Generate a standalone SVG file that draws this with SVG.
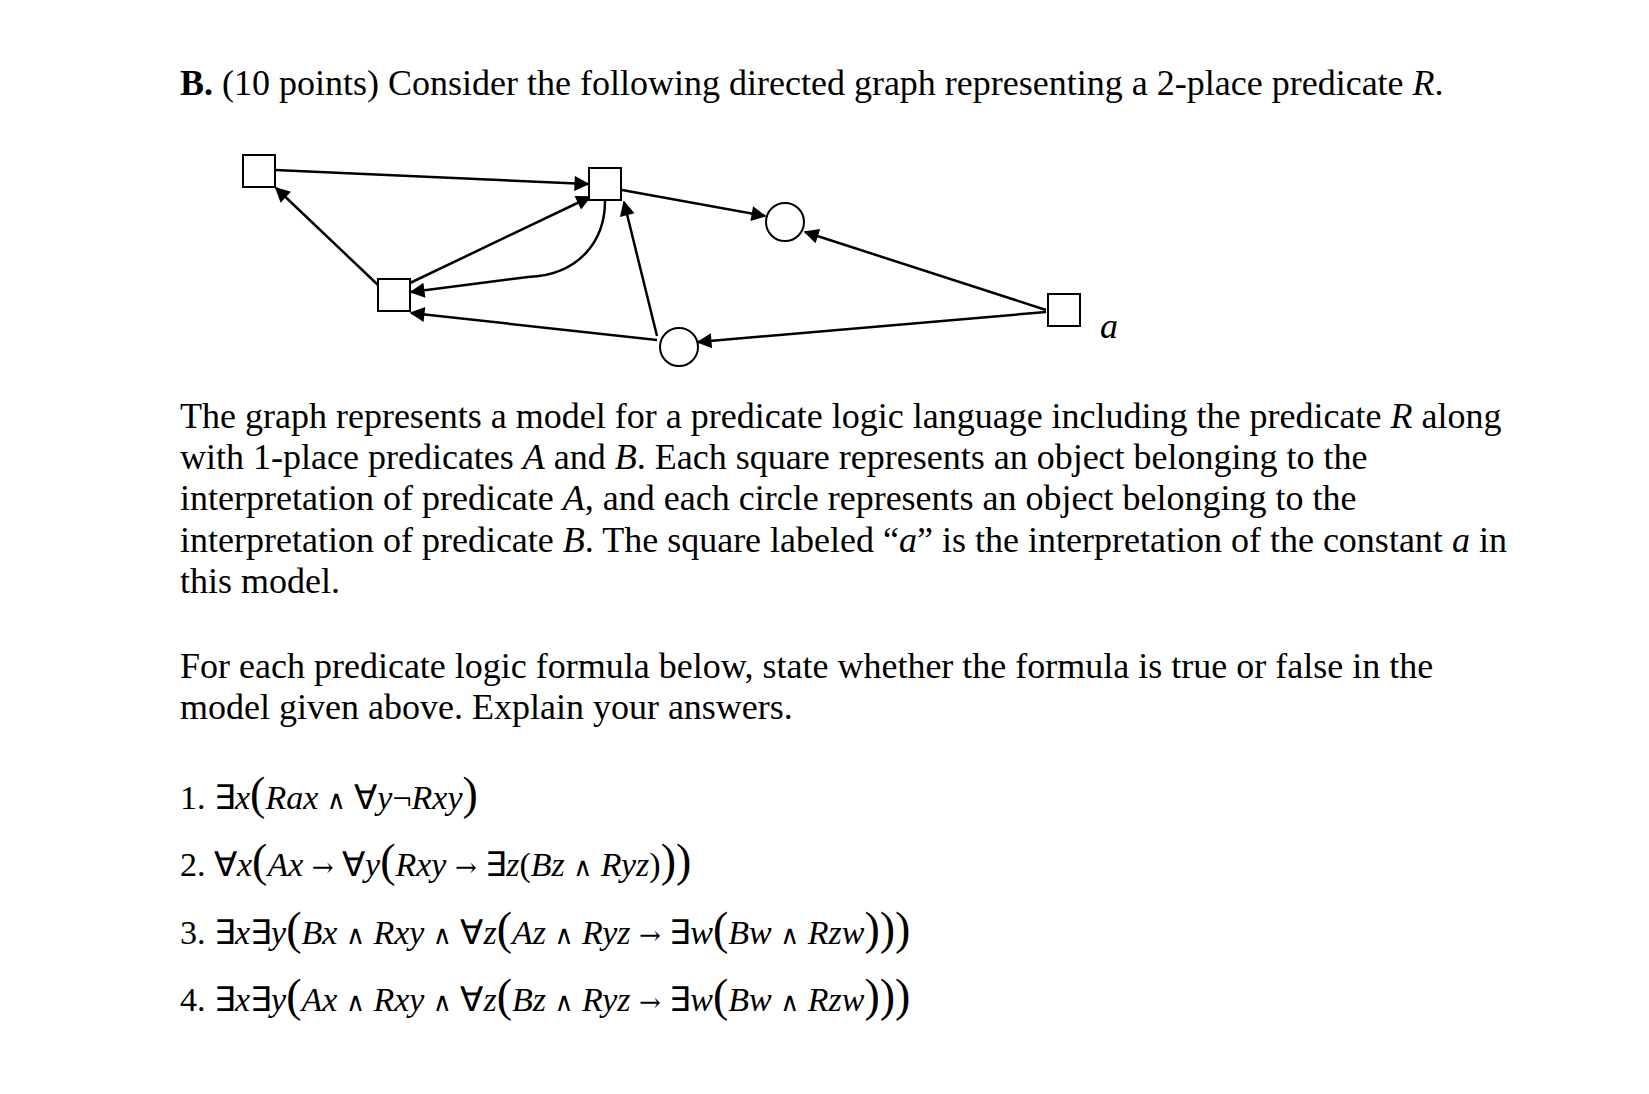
<svg xmlns="http://www.w3.org/2000/svg" width="1649" height="1094" viewBox="0 0 1649 1094">
<style>
text{font-family:"Liberation Serif","Times New Roman",serif;font-size:36px;fill:#000}
.f{font-size:34px}
.bp{font-size:46px}
.s{font-family:"DejaVu Serif",serif;font-size:26px}
.n{fill:#fff;stroke:#000;stroke-width:2}
.e{fill:none;stroke:#000;stroke-width:2.5}
</style>
<defs>
<marker id="ah2" viewBox="0 0 10 10" refX="9" refY="5" markerWidth="18" markerHeight="15" orient="auto" markerUnits="userSpaceOnUse"><path d="M0,0 L10,5 L0,10 z" fill="#000"/></marker></defs>
<rect width="1649" height="1094" fill="#fff"/>
<text x="180" y="95"><tspan font-weight="bold">B.</tspan> (10 points) Consider the following directed graph representing a 2-place predicate <tspan font-style="italic">R</tspan>.</text>
<g id="connectors">
<path class="e" marker-end="url(#ah2)" d="M275,170 L588,184"/>
<path class="e" marker-end="url(#ah2)" d="M378,285 L276,188"/>
<path class="e" marker-end="url(#ah2)" d="M410,283 L590,197"/>
<path class="e" marker-end="url(#ah2)" d="M605,201 C605,240 580,275 528,277 L411,292"/>
<path class="e" marker-end="url(#ah2)" d="M657,336 L624,202"/>
<path class="e" marker-end="url(#ah2)" d="M657,340 L411,313"/>
<path class="e" marker-end="url(#ah2)" d="M622,190 L765,216"/>
<path class="e" marker-end="url(#ah2)" d="M1046,310 L805,232"/>
<path class="e" marker-end="url(#ah2)" d="M1046,312 L698,342"/>
</g>
<g id="sq1"><rect class="n" x="243" y="155" width="32" height="32"/></g>
<g id="sq2"><rect class="n" x="589" y="168" width="32" height="32"/></g>
<g id="sq3"><rect class="n" x="378" y="279" width="32" height="32"/></g>
<g id="sqa"><rect class="n" x="1048" y="294" width="32" height="32"/><text x="1100" y="338" font-style="italic" font-size="30">a</text></g>
<g id="c1"><circle class="n" cx="785" cy="222" r="19"/></g>
<g id="c2"><circle class="n" cx="679" cy="347" r="19"/></g>
<text x="180" y="428">The graph represents a model for a predicate logic language including the predicate <tspan font-style="italic">R</tspan> along</text>
<text x="180" y="469">with 1-place predicates <tspan font-style="italic">A</tspan> and <tspan font-style="italic">B</tspan>.  Each square represents an object belonging to the</text>
<text x="180" y="510">interpretation of predicate <tspan font-style="italic">A</tspan>, and each circle represents an object belonging to the</text>
<text x="180" y="552">interpretation of predicate <tspan font-style="italic">B</tspan>.  The square labeled “<tspan font-style="italic">a</tspan>” is the interpretation of the constant <tspan font-style="italic">a</tspan> in</text>
<text x="180" y="593">this model.</text>
<text x="180" y="678">For each predicate logic formula below, state whether the formula is true or false in the</text>
<text x="180" y="719">model given above.  Explain your answers.</text>
<text class="f" x="180" y="809">1. ∃<tspan font-style="italic">x</tspan><tspan class="bp">(</tspan><tspan font-style="italic">Rax</tspan> <tspan class="s">∧</tspan> ∀<tspan font-style="italic">y</tspan>¬<tspan font-style="italic">Rxy</tspan><tspan class="bp">)</tspan></text>
<text class="f" x="180" y="876">2. ∀<tspan font-style="italic">x</tspan><tspan class="bp">(</tspan><tspan font-style="italic">Ax</tspan> <tspan class="s">→</tspan> ∀<tspan font-style="italic">y</tspan><tspan class="bp">(</tspan><tspan font-style="italic">Rxy</tspan> <tspan class="s">→</tspan> ∃<tspan font-style="italic">z</tspan>(<tspan font-style="italic">Bz</tspan> <tspan class="s">∧</tspan> <tspan font-style="italic">Ryz</tspan>)<tspan class="bp">))</tspan></text>
<text class="f" x="180" y="944">3. ∃<tspan font-style="italic">x</tspan>∃<tspan font-style="italic">y</tspan><tspan class="bp">(</tspan><tspan font-style="italic">Bx</tspan> <tspan class="s">∧</tspan> <tspan font-style="italic">Rxy</tspan> <tspan class="s">∧</tspan> ∀<tspan font-style="italic">z</tspan><tspan class="bp">(</tspan><tspan font-style="italic">Az</tspan> <tspan class="s">∧</tspan> <tspan font-style="italic">Ryz</tspan> <tspan class="s">→</tspan> ∃<tspan font-style="italic">w</tspan><tspan class="bp">(</tspan><tspan font-style="italic">Bw</tspan> <tspan class="s">∧</tspan> <tspan font-style="italic">Rzw</tspan><tspan class="bp">)))</tspan></text>
<text class="f" x="180" y="1011">4. ∃<tspan font-style="italic">x</tspan>∃<tspan font-style="italic">y</tspan><tspan class="bp">(</tspan><tspan font-style="italic">Ax</tspan> <tspan class="s">∧</tspan> <tspan font-style="italic">Rxy</tspan> <tspan class="s">∧</tspan> ∀<tspan font-style="italic">z</tspan><tspan class="bp">(</tspan><tspan font-style="italic">Bz</tspan> <tspan class="s">∧</tspan> <tspan font-style="italic">Ryz</tspan> <tspan class="s">→</tspan> ∃<tspan font-style="italic">w</tspan><tspan class="bp">(</tspan><tspan font-style="italic">Bw</tspan> <tspan class="s">∧</tspan> <tspan font-style="italic">Rzw</tspan><tspan class="bp">)))</tspan></text>
</svg>
